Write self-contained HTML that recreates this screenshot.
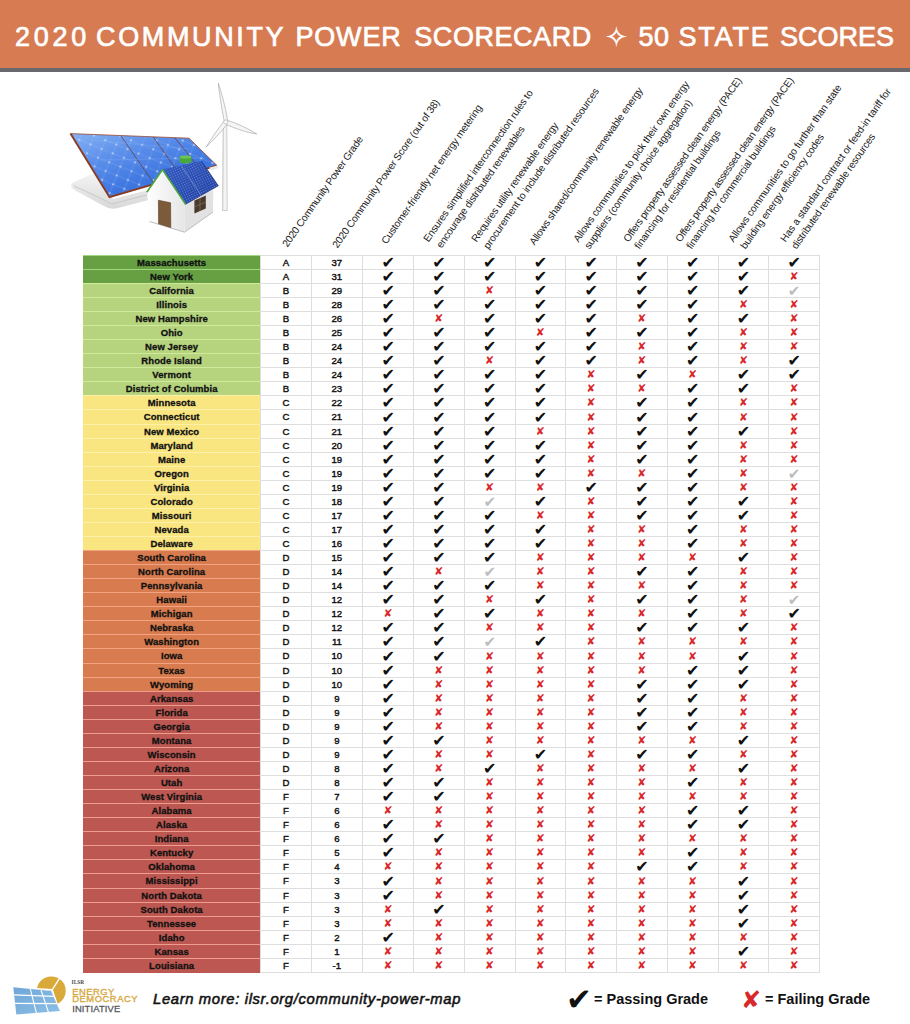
<!DOCTYPE html>
<html lang="en"><head><meta charset="utf-8"><title>2020 Community Power Scorecard</title>
<style>
*{margin:0;padding:0;box-sizing:border-box}
html,body{width:910px;height:1024px;overflow:hidden;background:#fff}
body{position:relative;font-family:"Liberation Sans",Arial,sans-serif;color:#111}
.hdr{position:absolute;left:0;top:0;width:910px;height:68px;background:#d77b52}
.hdr h1{position:absolute;left:0;top:21.5px;width:910px;height:30px;font-weight:normal;font-size:27px;line-height:30px;color:#fff;white-space:nowrap;-webkit-text-stroke:0.7px #fff}
.hdr h1 span{position:absolute;top:0}
.hdr .star{font-family:"DejaVu Sans",sans-serif;font-size:26px;-webkit-text-stroke:0.4px #fff;top:0}
.hbar{position:absolute;left:0;top:68px;width:910px;height:4px;background:#69686d}
.ch{position:absolute;white-space:nowrap;font-size:10.2px;letter-spacing:-0.25px;line-height:10px;color:#1a1a1a;transform-origin:0 0;transform:rotate(-55deg) translate(0,-8.6px)}
.tbl{position:absolute;left:83px;top:255px;width:737px;height:718px}
.r{position:absolute;left:0;height:14px;display:flex;width:737px}
.r.h15{height:15px}
.r span{display:block;height:100%;line-height:12px;text-align:center;flex:none;padding-top:0.5px}
.r.h15 span{padding-top:1px}
.st{width:177.3px;font-weight:bold;font-size:9.5px;letter-spacing:0.08px;color:#111;-webkit-text-stroke:0.3px #111;border-top:1px solid}
.ga{background:#66a043;border-top-color:#a0d880}
.gb{background:#b6d47e;border-top-color:#d0ea9c}
.gc{background:#f9e680;border-top-color:#fdf0a8}
.gd{background:#d87b4e;border-top-color:#f4a382}
.gf{background:#bc5851;border-top-color:#ee9c8e}
.gq,.sc,.k,.x{border-top:1px solid #dedede;border-left:1px solid #dedede}
.sc{width:50.78px;font-size:9.6px;-webkit-text-stroke:0.4px #111;text-indent:-1px}
.gq{font-size:9.6px;width:51.2px;-webkit-text-stroke:0.4px #111;text-indent:-1px}
.r .k,.r .x{width:50.78px;font-family:"DejaVu Sans",sans-serif;font-size:16px;line-height:14px}
.r .x{font-size:11px;line-height:14px}
.r span.k,.r span.x{padding-top:0}
.r.h15 span.k,.r.h15 span.x{padding-top:0.5px}
.k{color:#111}
.x{color:#d9282a}
.r .gr{color:#bdbdbd;font-size:15px}
.r.last{height:15px}
.r.last span{border-bottom:1px solid #dedede}
.r.last span.st{border-bottom:none}
.r span:last-child{border-right:1px solid #dedede;width:51.5px}
.learn{position:absolute;left:153px;top:991px;font-weight:normal;font-style:italic;font-size:14.8px;letter-spacing:0.65px;color:#111;white-space:nowrap;-webkit-text-stroke:0.55px #111}
.leg1,.leg2{position:absolute;top:991px;font-weight:bold;font-size:14.5px;line-height:17px;white-space:nowrap;color:#111}
.leg1{left:594px}.leg2{left:765px}
.lk,.lx{position:absolute;font-family:"DejaVu Sans",sans-serif;line-height:20px}
.lk{left:566px;top:989px;font-size:31px;color:#111}
.lx{left:741px;top:990px;font-size:24px;color:#d9282a}

</style></head><body>
<div class="hdr"><h1><span style="left:15.1px;letter-spacing:3.67px">2020</span> <span style="left:96.0px;letter-spacing:2.63px">COMMUNITY</span> <span style="left:295.4px;letter-spacing:0.85px">POWER</span> <span style="left:414.3px;letter-spacing:0.55px">SCORECARD</span> <span class="star" style="left:605.5px;letter-spacing:0px">✧</span> <span style="left:638.6px;letter-spacing:0.5px">50</span> <span style="left:678.5px;letter-spacing:1.8px">STATE</span> <span style="left:780.0px;letter-spacing:-0.02px">SCORES</span></h1></div>
<div class="hbar"></div>
<svg class="house" style="position:absolute;left:40px;top:74px" width="240" height="170" viewBox="40 74 240 170">
<defs>
<linearGradient id="pg" x1="0" y1="0" x2="0.8" y2="1"><stop offset="0" stop-color="#86b2f4"/><stop offset="0.35" stop-color="#5b8fea"/><stop offset="0.7" stop-color="#3e76e0"/><stop offset="1" stop-color="#3467d6"/></linearGradient>
<linearGradient id="rg" x1="0" y1="0" x2="1" y2="1"><stop offset="0" stop-color="#2f55bf"/><stop offset="1" stop-color="#1f3d9e"/></linearGradient>
<linearGradient id="wg" x1="0" y1="0" x2="1" y2="0"><stop offset="0" stop-color="#ffffff"/><stop offset="1" stop-color="#e6e6e6"/></linearGradient>
<linearGradient id="bg" x1="0" y1="0" x2="0" y2="1"><stop offset="0" stop-color="#f4f4f4"/><stop offset="1" stop-color="#d8d8d8"/></linearGradient>
<pattern id="dots" width="12" height="9.5" patternUnits="userSpaceOnUse" patternTransform="rotate(22)"><circle cx="6" cy="5" r="0.9" fill="#e8f0ff" opacity="0.85"/><path d="M0 5 H12 M6 0 V9.5" stroke="#a9c6f7" stroke-width="0.35" opacity="0.6"/></pattern>
<pattern id="rdots" width="2.4" height="2.4" patternUnits="userSpaceOnUse" patternTransform="rotate(-25)"><rect x="0" y="0" width="1.2" height="1.2" fill="#8fb0f0" opacity="0.55"/></pattern>
</defs>
<!-- base platform / shadow -->
<path d="M72 183 L94 173 L113 199 L152 189 L160 197 L118 208 Q110 210 104 206 L76 191 Q69 187 72 183Z" fill="url(#bg)"/>
<path d="M74 186 L100 198 L112 204 L150 194" fill="none" stroke="#c9c9c9" stroke-width="1"/>
<!-- solar panel -->
<path d="M70.5 133.6 L189 138.2 L217 165.6 L109.5 197.2 Z" fill="url(#pg)"/>
<path d="M70.5 133.6 L189 138.2 L217 165.6 L109.5 197.2 Z" fill="url(#dots)"/>
<path d="M70.5 133.6 L109.5 197.2 L217 165.6" fill="none" stroke="#8a3a22" stroke-width="1.9"/>
<path d="M70.5 133.6 L189 138.2 L217 165.6" fill="none" stroke="#9b4a30" stroke-width="0.8"/>
<path d="M121 136 L156 186.5 M153.5 137.2 L182 178 M175 138 L201 170.2" stroke="#6a3a3a" stroke-width="0.9" fill="none" opacity="0.85"/>
<path d="M90 140 L190 149 M100 160 L205 158" stroke="#9cc0ff" stroke-width="0.5" opacity="0.5" fill="none"/>
<!-- panel underside strip -->
<path d="M209 167.8 L217 165.6 L218.5 168 L211 170.5Z" fill="#e8e8e8"/>
<!-- wind turbine tower -->
<path d="M223.4 122 L226.8 122 L227.2 210.5 L222.4 210.5 Z" fill="#f4f4f4" stroke="#b0b0b0" stroke-width="0.6"/>
<path d="M223.2 124 L222.9 210" stroke="#d4d4d4" stroke-width="0.9"/>
<!-- blades -->
<path d="M224.3 121.6 C221.2 106 219.4 93 218.3 83.2 C221.6 93 225 105 227.7 120.8 Z" fill="#f6f6f6" stroke="#a0a0a0" stroke-width="0.6" stroke-linejoin="round"/>
<path d="M226.8 120.2 C238 123.6 248 128.6 256.8 134 C247 132.8 236 128.6 225.8 124.4 Z" fill="#f6f6f6" stroke="#a0a0a0" stroke-width="0.6" stroke-linejoin="round"/>
<path d="M224 121.4 C217 130 211 139 206 147.2 C212.4 141 219.6 133.4 227.2 124.2 Z" fill="#f6f6f6" stroke="#a0a0a0" stroke-width="0.6" stroke-linejoin="round"/>
<circle cx="225.8" cy="122" r="2.1" fill="#fafafa" stroke="#b0b0b0" stroke-width="0.6"/>
<!-- house right wall -->
<path d="M184.5 203 L213.3 190 L213 212 L184.5 232.2 Z" fill="#e2e2e2"/>
<!-- window -->
<path d="M194.4 200.5 L205.8 195.5 L205.8 208.5 L194.4 213.6 Z" fill="#4a3a2c"/>
<path d="M200 198 L200 211 M194.4 207 L205.8 202" stroke="#8a7a6a" stroke-width="0.6"/>
<!-- front gable wall -->
<path d="M147 192 L162.4 170.2 L184.8 204 L184.5 232.2 L149.5 221.5 Z" fill="url(#wg)"/>
<path d="M149.5 221.5 L184.5 232.2 L213 212" fill="none" stroke="#bdbdbd" stroke-width="1"/>
<!-- door -->
<path d="M158.4 200.2 L170.6 202.8 L170.8 227.5 L158.6 223.8 Z" fill="#7b5b3a"/>
<path d="M158.4 200.2 L170.6 202.8 L170.8 227.5 L158.6 223.8 Z" fill="none" stroke="#5a3d22" stroke-width="0.6"/>
<!-- roof -->
<path d="M162.7 169.3 L201.3 160.9 L218.3 185.8 L185.6 204.2 Z" fill="url(#rg)"/>
<path d="M162.7 169.3 L201.3 160.9 L218.3 185.8 L185.6 204.2 Z" fill="url(#rdots)"/>
<path d="M201.3 160.9 L218.3 185.8 L185.6 204.2" fill="none" stroke="#1a2f78" stroke-width="0.7"/>
<path d="M181 165.3 L201.4 195.8" stroke="#7f97c8" stroke-width="0.7"/>
<!-- chimney -->
<path d="M179.6 157 Q185.5 155 191.4 157 L191.4 162.5 Q185.5 164.5 179.6 162.5 Z" fill="#4aa83a"/>
<ellipse cx="185.5" cy="157" rx="5.9" ry="1.6" fill="#6cc455"/>
<!-- green trim -->
<path d="M146.8 192.2 L162.5 169.6 L185.6 204.4" fill="none" stroke="#4aa638" stroke-width="1.6" stroke-linejoin="round"/>
</svg>

<div class="colheads">
<div class="ch" style="left:287.8px;top:248.0px;letter-spacing:-0.298px">2020 Community Power Grade</div>
<div class="ch" style="left:338.3px;top:249.1px;letter-spacing:-0.239px">2020 Community Power Score (out of 38)</div>
<div class="ch" style="left:386.7px;top:245.2px;letter-spacing:-0.181px">Customer-friendly net energy metering</div>
<div class="ch" style="left:429.1px;top:242.6px;letter-spacing:-0.190px">Ensures simplified interconnection rules to</div>
<div class="ch" style="left:441.6px;top:249.1px;letter-spacing:-0.221px">encourage distributed renewables</div>
<div class="ch" style="left:477.2px;top:242.6px;letter-spacing:-0.234px">Requires utility renewable energy</div>
<div class="ch" style="left:488.6px;top:250.2px;letter-spacing:-0.176px">procurement to include distributed resources</div>
<div class="ch" style="left:534.8px;top:245.9px;letter-spacing:-0.250px">Allows shared/community renewable energy</div>
<div class="ch" style="left:579.4px;top:242.6px;letter-spacing:-0.148px">Allows communities to pick their own energy</div>
<div class="ch" style="left:589.7px;top:249.6px;letter-spacing:-0.237px">suppliers (community choice aggregation)</div>
<div class="ch" style="left:629.3px;top:242.6px;letter-spacing:-0.310px">Offers property assessed clean energy (PACE)</div>
<div class="ch" style="left:639.8px;top:249.6px;letter-spacing:-0.159px">financing for residential buildings</div>
<div class="ch" style="left:681.4px;top:242.6px;letter-spacing:-0.308px">Offers property assessed clean energy (PACE)</div>
<div class="ch" style="left:692.4px;top:249.6px;letter-spacing:-0.183px">financing for commercial buildings</div>
<div class="ch" style="left:734.1px;top:243.0px;letter-spacing:-0.133px">Allows communities to go further than state</div>
<div class="ch" style="left:745.5px;top:249.6px;letter-spacing:-0.208px">building energy efficiency codes</div>
<div class="ch" style="left:786.4px;top:243.0px;letter-spacing:-0.148px">Has a standard contract or feed-in tariff for</div>
<div class="ch" style="left:796.7px;top:249.6px;letter-spacing:-0.207px">distributed renewable resources</div>
</div>
<div class="tbl">
<div class="r" style="top:0px"><span class="st ga">Massachusetts</span><span class="gq">A</span><span class="sc">37</span><span class="k">✔</span><span class="k">✔</span><span class="k">✔</span><span class="k">✔</span><span class="k">✔</span><span class="k">✔</span><span class="k">✔</span><span class="k">✔</span><span class="k">✔</span></div>
<div class="r" style="top:14px"><span class="st ga">New York</span><span class="gq">A</span><span class="sc">31</span><span class="k">✔</span><span class="k">✔</span><span class="k">✔</span><span class="k">✔</span><span class="k">✔</span><span class="k">✔</span><span class="k">✔</span><span class="k">✔</span><span class="x">✘</span></div>
<div class="r" style="top:28px"><span class="st gb">California</span><span class="gq">B</span><span class="sc">29</span><span class="k">✔</span><span class="k">✔</span><span class="x">✘</span><span class="k">✔</span><span class="k">✔</span><span class="k">✔</span><span class="k">✔</span><span class="k">✔</span><span class="k gr">✔</span></div>
<div class="r" style="top:42px"><span class="st gb">Illinois</span><span class="gq">B</span><span class="sc">28</span><span class="k">✔</span><span class="k">✔</span><span class="k">✔</span><span class="k">✔</span><span class="k">✔</span><span class="k">✔</span><span class="k">✔</span><span class="x">✘</span><span class="x">✘</span></div>
<div class="r" style="top:56px"><span class="st gb">New Hampshire</span><span class="gq">B</span><span class="sc">26</span><span class="k">✔</span><span class="x">✘</span><span class="k">✔</span><span class="k">✔</span><span class="k">✔</span><span class="x">✘</span><span class="k">✔</span><span class="k">✔</span><span class="x">✘</span></div>
<div class="r" style="top:70px"><span class="st gb">Ohio</span><span class="gq">B</span><span class="sc">25</span><span class="k">✔</span><span class="k">✔</span><span class="k">✔</span><span class="x">✘</span><span class="k">✔</span><span class="k">✔</span><span class="k">✔</span><span class="x">✘</span><span class="x">✘</span></div>
<div class="r" style="top:84px"><span class="st gb">New Jersey</span><span class="gq">B</span><span class="sc">24</span><span class="k">✔</span><span class="k">✔</span><span class="k">✔</span><span class="k">✔</span><span class="k">✔</span><span class="x">✘</span><span class="k">✔</span><span class="x">✘</span><span class="x">✘</span></div>
<div class="r" style="top:98px"><span class="st gb">Rhode Island</span><span class="gq">B</span><span class="sc">24</span><span class="k">✔</span><span class="k">✔</span><span class="x">✘</span><span class="k">✔</span><span class="k">✔</span><span class="x">✘</span><span class="k">✔</span><span class="x">✘</span><span class="k">✔</span></div>
<div class="r" style="top:112px"><span class="st gb">Vermont</span><span class="gq">B</span><span class="sc">24</span><span class="k">✔</span><span class="k">✔</span><span class="k">✔</span><span class="k">✔</span><span class="x">✘</span><span class="k">✔</span><span class="x">✘</span><span class="k">✔</span><span class="k">✔</span></div>
<div class="r" style="top:126px"><span class="st gb">District of Columbia</span><span class="gq">B</span><span class="sc">23</span><span class="k">✔</span><span class="k">✔</span><span class="k">✔</span><span class="k">✔</span><span class="x">✘</span><span class="x">✘</span><span class="k">✔</span><span class="k">✔</span><span class="x">✘</span></div>
<div class="r" style="top:140px"><span class="st gc">Minnesota</span><span class="gq">C</span><span class="sc">22</span><span class="k">✔</span><span class="k">✔</span><span class="k">✔</span><span class="k">✔</span><span class="x">✘</span><span class="k">✔</span><span class="k">✔</span><span class="x">✘</span><span class="x">✘</span></div>
<div class="r h15" style="top:154px"><span class="st gc">Connecticut</span><span class="gq">C</span><span class="sc">21</span><span class="k">✔</span><span class="k">✔</span><span class="k">✔</span><span class="k">✔</span><span class="x">✘</span><span class="k">✔</span><span class="k">✔</span><span class="x">✘</span><span class="x">✘</span></div>
<div class="r" style="top:169px"><span class="st gc">New Mexico</span><span class="gq">C</span><span class="sc">21</span><span class="k">✔</span><span class="k">✔</span><span class="k">✔</span><span class="x">✘</span><span class="x">✘</span><span class="k">✔</span><span class="k">✔</span><span class="k">✔</span><span class="x">✘</span></div>
<div class="r" style="top:183px"><span class="st gc">Maryland</span><span class="gq">C</span><span class="sc">20</span><span class="k">✔</span><span class="k">✔</span><span class="k">✔</span><span class="k">✔</span><span class="x">✘</span><span class="k">✔</span><span class="k">✔</span><span class="x">✘</span><span class="x">✘</span></div>
<div class="r" style="top:197px"><span class="st gc">Maine</span><span class="gq">C</span><span class="sc">19</span><span class="k">✔</span><span class="k">✔</span><span class="k">✔</span><span class="k">✔</span><span class="x">✘</span><span class="k">✔</span><span class="k">✔</span><span class="x">✘</span><span class="x">✘</span></div>
<div class="r" style="top:211px"><span class="st gc">Oregon</span><span class="gq">C</span><span class="sc">19</span><span class="k">✔</span><span class="k">✔</span><span class="k">✔</span><span class="k">✔</span><span class="x">✘</span><span class="x">✘</span><span class="k">✔</span><span class="x">✘</span><span class="k gr">✔</span></div>
<div class="r" style="top:225px"><span class="st gc">Virginia</span><span class="gq">C</span><span class="sc">19</span><span class="k">✔</span><span class="k">✔</span><span class="x">✘</span><span class="x">✘</span><span class="k">✔</span><span class="k">✔</span><span class="k">✔</span><span class="x">✘</span><span class="x">✘</span></div>
<div class="r" style="top:239px"><span class="st gc">Colorado</span><span class="gq">C</span><span class="sc">18</span><span class="k">✔</span><span class="k">✔</span><span class="k gr">✔</span><span class="k">✔</span><span class="x">✘</span><span class="k">✔</span><span class="k">✔</span><span class="k">✔</span><span class="x">✘</span></div>
<div class="r" style="top:253px"><span class="st gc">Missouri</span><span class="gq">C</span><span class="sc">17</span><span class="k">✔</span><span class="k">✔</span><span class="k">✔</span><span class="x">✘</span><span class="x">✘</span><span class="k">✔</span><span class="k">✔</span><span class="k">✔</span><span class="x">✘</span></div>
<div class="r" style="top:267px"><span class="st gc">Nevada</span><span class="gq">C</span><span class="sc">17</span><span class="k">✔</span><span class="k">✔</span><span class="k">✔</span><span class="k">✔</span><span class="x">✘</span><span class="x">✘</span><span class="k">✔</span><span class="x">✘</span><span class="x">✘</span></div>
<div class="r" style="top:281px"><span class="st gc">Delaware</span><span class="gq">C</span><span class="sc">16</span><span class="k">✔</span><span class="k">✔</span><span class="k">✔</span><span class="k">✔</span><span class="x">✘</span><span class="x">✘</span><span class="k">✔</span><span class="x">✘</span><span class="x">✘</span></div>
<div class="r" style="top:295px"><span class="st gd">South Carolina</span><span class="gq">D</span><span class="sc">15</span><span class="k">✔</span><span class="k">✔</span><span class="k">✔</span><span class="x">✘</span><span class="x">✘</span><span class="x">✘</span><span class="x">✘</span><span class="k">✔</span><span class="x">✘</span></div>
<div class="r" style="top:309px"><span class="st gd">North Carolina</span><span class="gq">D</span><span class="sc">14</span><span class="k">✔</span><span class="x">✘</span><span class="k gr">✔</span><span class="x">✘</span><span class="x">✘</span><span class="k">✔</span><span class="k">✔</span><span class="x">✘</span><span class="x">✘</span></div>
<div class="r" style="top:323px"><span class="st gd">Pennsylvania</span><span class="gq">D</span><span class="sc">14</span><span class="k">✔</span><span class="k">✔</span><span class="k">✔</span><span class="x">✘</span><span class="x">✘</span><span class="x">✘</span><span class="k">✔</span><span class="x">✘</span><span class="x">✘</span></div>
<div class="r" style="top:337px"><span class="st gd">Hawaii</span><span class="gq">D</span><span class="sc">12</span><span class="k">✔</span><span class="k">✔</span><span class="x">✘</span><span class="k">✔</span><span class="x">✘</span><span class="k">✔</span><span class="k">✔</span><span class="x">✘</span><span class="k gr">✔</span></div>
<div class="r" style="top:351px"><span class="st gd">Michigan</span><span class="gq">D</span><span class="sc">12</span><span class="x">✘</span><span class="k">✔</span><span class="k">✔</span><span class="x">✘</span><span class="x">✘</span><span class="x">✘</span><span class="k">✔</span><span class="x">✘</span><span class="k">✔</span></div>
<div class="r" style="top:365px"><span class="st gd">Nebraska</span><span class="gq">D</span><span class="sc">12</span><span class="k">✔</span><span class="k">✔</span><span class="x">✘</span><span class="x">✘</span><span class="x">✘</span><span class="k">✔</span><span class="k">✔</span><span class="k">✔</span><span class="x">✘</span></div>
<div class="r" style="top:379px"><span class="st gd">Washington</span><span class="gq">D</span><span class="sc">11</span><span class="k">✔</span><span class="k">✔</span><span class="k gr">✔</span><span class="k">✔</span><span class="x">✘</span><span class="x">✘</span><span class="x">✘</span><span class="x">✘</span><span class="x">✘</span></div>
<div class="r h15" style="top:393px"><span class="st gd">Iowa</span><span class="gq">D</span><span class="sc">10</span><span class="k">✔</span><span class="k">✔</span><span class="x">✘</span><span class="x">✘</span><span class="x">✘</span><span class="x">✘</span><span class="x">✘</span><span class="k">✔</span><span class="x">✘</span></div>
<div class="r" style="top:408px"><span class="st gd">Texas</span><span class="gq">D</span><span class="sc">10</span><span class="k">✔</span><span class="x">✘</span><span class="x">✘</span><span class="x">✘</span><span class="x">✘</span><span class="x">✘</span><span class="k">✔</span><span class="k">✔</span><span class="x">✘</span></div>
<div class="r" style="top:422px"><span class="st gd">Wyoming</span><span class="gq">D</span><span class="sc">10</span><span class="k">✔</span><span class="x">✘</span><span class="x">✘</span><span class="x">✘</span><span class="x">✘</span><span class="k">✔</span><span class="k">✔</span><span class="k">✔</span><span class="x">✘</span></div>
<div class="r" style="top:436px"><span class="st gf">Arkansas</span><span class="gq">D</span><span class="sc">9</span><span class="k">✔</span><span class="x">✘</span><span class="x">✘</span><span class="x">✘</span><span class="x">✘</span><span class="k">✔</span><span class="k">✔</span><span class="x">✘</span><span class="x">✘</span></div>
<div class="r" style="top:450px"><span class="st gf">Florida</span><span class="gq">D</span><span class="sc">9</span><span class="k">✔</span><span class="x">✘</span><span class="x">✘</span><span class="x">✘</span><span class="x">✘</span><span class="k">✔</span><span class="k">✔</span><span class="x">✘</span><span class="x">✘</span></div>
<div class="r" style="top:464px"><span class="st gf">Georgia</span><span class="gq">D</span><span class="sc">9</span><span class="k">✔</span><span class="x">✘</span><span class="x">✘</span><span class="x">✘</span><span class="x">✘</span><span class="k">✔</span><span class="k">✔</span><span class="x">✘</span><span class="x">✘</span></div>
<div class="r" style="top:478px"><span class="st gf">Montana</span><span class="gq">D</span><span class="sc">9</span><span class="k">✔</span><span class="k">✔</span><span class="x">✘</span><span class="x">✘</span><span class="x">✘</span><span class="x">✘</span><span class="x">✘</span><span class="k">✔</span><span class="x">✘</span></div>
<div class="r" style="top:492px"><span class="st gf">Wisconsin</span><span class="gq">D</span><span class="sc">9</span><span class="k">✔</span><span class="x">✘</span><span class="x">✘</span><span class="k">✔</span><span class="x">✘</span><span class="k">✔</span><span class="k">✔</span><span class="x">✘</span><span class="x">✘</span></div>
<div class="r" style="top:506px"><span class="st gf">Arizona</span><span class="gq">D</span><span class="sc">8</span><span class="k">✔</span><span class="x">✘</span><span class="k">✔</span><span class="x">✘</span><span class="x">✘</span><span class="x">✘</span><span class="x">✘</span><span class="k">✔</span><span class="x">✘</span></div>
<div class="r" style="top:520px"><span class="st gf">Utah</span><span class="gq">D</span><span class="sc">8</span><span class="k">✔</span><span class="k">✔</span><span class="x">✘</span><span class="x">✘</span><span class="x">✘</span><span class="x">✘</span><span class="k">✔</span><span class="x">✘</span><span class="x">✘</span></div>
<div class="r" style="top:534px"><span class="st gf">West Virginia</span><span class="gq">F</span><span class="sc">7</span><span class="k">✔</span><span class="k">✔</span><span class="x">✘</span><span class="x">✘</span><span class="x">✘</span><span class="x">✘</span><span class="x">✘</span><span class="x">✘</span><span class="x">✘</span></div>
<div class="r" style="top:548px"><span class="st gf">Alabama</span><span class="gq">F</span><span class="sc">6</span><span class="x">✘</span><span class="x">✘</span><span class="x">✘</span><span class="x">✘</span><span class="x">✘</span><span class="x">✘</span><span class="k">✔</span><span class="k">✔</span><span class="x">✘</span></div>
<div class="r" style="top:562px"><span class="st gf">Alaska</span><span class="gq">F</span><span class="sc">6</span><span class="k">✔</span><span class="x">✘</span><span class="x">✘</span><span class="x">✘</span><span class="x">✘</span><span class="x">✘</span><span class="k">✔</span><span class="k">✔</span><span class="x">✘</span></div>
<div class="r" style="top:576px"><span class="st gf">Indiana</span><span class="gq">F</span><span class="sc">6</span><span class="k">✔</span><span class="k">✔</span><span class="x">✘</span><span class="x">✘</span><span class="x">✘</span><span class="x">✘</span><span class="x">✘</span><span class="x">✘</span><span class="x">✘</span></div>
<div class="r" style="top:590px"><span class="st gf">Kentucky</span><span class="gq">F</span><span class="sc">5</span><span class="k">✔</span><span class="x">✘</span><span class="x">✘</span><span class="x">✘</span><span class="x">✘</span><span class="x">✘</span><span class="k">✔</span><span class="x">✘</span><span class="x">✘</span></div>
<div class="r" style="top:604px"><span class="st gf">Oklahoma</span><span class="gq">F</span><span class="sc">4</span><span class="x">✘</span><span class="x">✘</span><span class="x">✘</span><span class="x">✘</span><span class="x">✘</span><span class="k">✔</span><span class="k">✔</span><span class="x">✘</span><span class="x">✘</span></div>
<div class="r h15" style="top:618px"><span class="st gf">Mississippi</span><span class="gq">F</span><span class="sc">3</span><span class="k">✔</span><span class="x">✘</span><span class="x">✘</span><span class="x">✘</span><span class="x">✘</span><span class="x">✘</span><span class="x">✘</span><span class="k">✔</span><span class="x">✘</span></div>
<div class="r" style="top:633px"><span class="st gf">North Dakota</span><span class="gq">F</span><span class="sc">3</span><span class="k">✔</span><span class="x">✘</span><span class="x">✘</span><span class="x">✘</span><span class="x">✘</span><span class="x">✘</span><span class="x">✘</span><span class="k">✔</span><span class="x">✘</span></div>
<div class="r" style="top:647px"><span class="st gf">South Dakota</span><span class="gq">F</span><span class="sc">3</span><span class="x">✘</span><span class="k">✔</span><span class="x">✘</span><span class="x">✘</span><span class="x">✘</span><span class="x">✘</span><span class="x">✘</span><span class="k">✔</span><span class="x">✘</span></div>
<div class="r" style="top:661px"><span class="st gf">Tennessee</span><span class="gq">F</span><span class="sc">3</span><span class="x">✘</span><span class="x">✘</span><span class="x">✘</span><span class="x">✘</span><span class="x">✘</span><span class="x">✘</span><span class="x">✘</span><span class="k">✔</span><span class="x">✘</span></div>
<div class="r" style="top:675px"><span class="st gf">Idaho</span><span class="gq">F</span><span class="sc">2</span><span class="k">✔</span><span class="x">✘</span><span class="x">✘</span><span class="x">✘</span><span class="x">✘</span><span class="x">✘</span><span class="x">✘</span><span class="x">✘</span><span class="x">✘</span></div>
<div class="r" style="top:689px"><span class="st gf">Kansas</span><span class="gq">F</span><span class="sc">1</span><span class="x">✘</span><span class="x">✘</span><span class="x">✘</span><span class="x">✘</span><span class="x">✘</span><span class="x">✘</span><span class="x">✘</span><span class="k">✔</span><span class="x">✘</span></div>
<div class="r last" style="top:703px"><span class="st gf">Louisiana</span><span class="gq">F</span><span class="sc">-1</span><span class="x">✘</span><span class="x">✘</span><span class="x">✘</span><span class="x">✘</span><span class="x">✘</span><span class="x">✘</span><span class="x">✘</span><span class="x">✘</span><span class="x">✘</span></div>
</div>
<svg class="logo" style="position:absolute;left:0;top:972px" width="150" height="50" viewBox="0 972 150 50">
<defs><linearGradient id="lgb" x1="0" y1="0" x2="1" y2="1"><stop offset="0" stop-color="#6fa6d8"/><stop offset="1" stop-color="#8ec0e6"/></linearGradient></defs>
<circle cx="51.3" cy="990.8" r="14.4" fill="#d9a93a"/>
<path d="M52.2 989.8 L59.8 977.8 M52.2 989.8 L36 988.6 M52.2 989.8 L57 1004" stroke="#fff" stroke-width="1.4" fill="none"/>
<path d="M12.8 986.7 L51.6 990.6 L60.8 1011.4 L15.8 1015.2 Z" fill="#fff"/>
<path d="M13.3 987.2 L51 991 L60 1010.9 L16.3 1014.5 Z" fill="url(#lgb)"/>
<path d="M30.3 988.9 L36.6 1013.8 M41 990 L48.6 1012.6 M13.8 994.9 L53.6 996.4 M15.1 1003.4 L57.4 1003.6" stroke="#fff" stroke-width="1.1" fill="none"/>
<text x="71.6" y="983.6" font-family="Liberation Serif,serif" font-size="5.4" font-weight="bold" fill="#4a4a4c">ILSR</text>
<text x="72.2" y="994.6" font-family="Liberation Sans,sans-serif" font-size="9.4" letter-spacing="0.5" fill="#d5a83e" stroke="#d5a83e" stroke-width="0.35">ENERGY</text>
<text x="72.2" y="1002.4" font-family="Liberation Sans,sans-serif" font-size="9.4" letter-spacing="0.55" fill="#d5a83e" stroke="#d5a83e" stroke-width="0.35">DEMOCRACY</text>
<text x="72.2" y="1011.7" font-family="Liberation Sans,sans-serif" font-size="9.4" letter-spacing="0.15" fill="#58595b" stroke="#58595b" stroke-width="0.3">INITIATIVE</text>
</svg>

<div class="learn">Learn more: ilsr.org/community-power-map</div>
<div class="lk">✔</div><div class="leg1">= Passing Grade</div>
<div class="lx">✘</div><div class="leg2">= Failing Grade</div>
</body></html>
